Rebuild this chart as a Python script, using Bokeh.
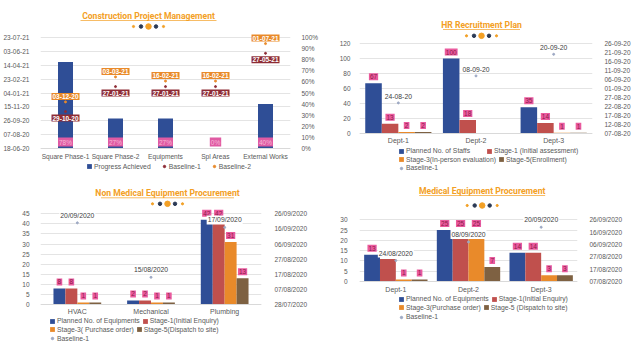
import datetime as dt
import numpy as np
from bokeh.plotting import figure
from bokeh.models import (Range1d, FactorRange, LinearAxis, FixedTicker, DatetimeTickFormatter,
                          PrintfTickFormatter, ColumnDataSource, Legend, LegendItem, Span)
from bokeh.transform import dodge
from bokeh.layouts import gridplot
from bokeh.embed import file_html
from bokeh.resources import INLINE
from bokeh.core.properties import value

# ------------------------------------------------------------------ data
c1_title = "Construction Project Management"
c1_categories = ["Square Phase-1", "Square Phase-2", "Equipments", "Spl Areas", "External Works"]
c1_progress = [78, 27, 27, 0, 40]
c1_baseline1 = ["2020-10-29", "2021-01-27", "2021-01-27", "2021-01-27", "2021-05-27"]
c1_baseline2 = ["2020-12-03", "2021-03-03", "2021-02-16", "2021-02-16", "2021-07-01"]
c1_date_ticks = ["2020-06-18", "2020-08-07", "2020-09-26", "2020-11-15", "2021-01-04",
                 "2021-02-23", "2021-04-14", "2021-06-03", "2021-07-23"]
c1_pct_ticks = [0, 10, 20, 30, 40, 50, 60, 70, 80, 90, 100]

c2_title = "HR Recruitment Plan"
c2_categories = ["Dept-1", "Dept-2", "Dept-3"]
c2_names = ["Planned No. of Staffs", "Stage-1 (Initial assessment)",
            "Stage-3(In-person evaluation)", "Stage-5(Enrollment)"]
c2_planned = [67, 100, 35]
c2_stage1 = [13, 18, 14]
c2_stage3 = [2, None, 1]
c2_stage5 = [2, None, 1]
c2_baseline1 = ["2020-08-24", "2020-09-08", "2020-09-20"]
c2_count_ticks = [0, 20, 40, 60, 80, 100, 120]
c2_date_ticks = ["2020-08-07", "2020-08-12", "2020-08-17", "2020-08-22", "2020-08-27", "2020-09-01",
                 "2020-09-06", "2020-09-11", "2020-09-16", "2020-09-21", "2020-09-26"]

c3_title = "Non Medical Equipment Procurement"
c3_categories = ["HVAC", "Mechanical", "Plumbing"]
c3_names = ["Planned No. of Equipments", "Stage-1(Initial Enquiry)",
            "Stage-3( Purchase order)", "Stage-5(Dispatch to site)"]
c3_planned = [8, 2, 42]
c3_stage1 = [8, 2, 42]
c3_stage3 = [1, 1, 31]
c3_stage5 = [1, 1, 13]
c3_baseline1 = ["2020-09-20", "2020-08-15", "2020-09-17"]
c3_count_ticks = [0, 5, 10, 15, 20, 25, 30, 35, 40, 45]
c3_date_ticks = ["2020-07-28", "2020-08-07", "2020-08-17", "2020-08-27",
                 "2020-09-06", "2020-09-16", "2020-09-26"]

c4_title = "Medical Equipment Procurement"
c4_categories = ["Dept-1", "Dept-2", "Dept-3"]
c4_names = ["Planned No. of Equipments", "Stage-1(Initial Enquiry)",
            "Stage-3(Purchase order)", "Stage-5 (Dispatch to site)"]
c4_planned = [13, 25, 14]
c4_stage1 = [11, 25, 14]
c4_stage3 = [1, 25, 3]
c4_stage5 = [1, 7, 3]
c4_baseline1 = ["2020-08-24", "2020-09-08", "2020-09-20"]
c4_count_ticks = [0, 5, 10, 15, 20, 25, 30]
c4_date_ticks = ["2020-08-07", "2020-08-17", "2020-08-27", "2020-09-06", "2020-09-16", "2020-09-26"]

# ------------------------------------------------------------------ style
FONT = "Liberation Sans"
TITLE_FONT = "Roboto"
AXIS_TXT = "#595959"
GRID = "#E4E4E4"
BLUE = "#2F4E96"
RED = "#C0504D"
ORANGE = "#E98A2A"
BROWN = "#7E6142"
PINK = "#EA5A9E"
PINK_TXT = "#8A1C48"
TITLE_ORANGE = "#F3A025"
NAVY = "#2B3A55"
DARKRED = "#8E2C35"
BASE_GRAY = "#9DA9C4"
SERIES_COLORS = [BLUE, RED, ORANGE, BROWN]

FIG_W = 318
EPOCH = dt.datetime(1970, 1, 1)


def to_ms(s):
    return (dt.datetime.strptime(s, "%Y-%m-%d") - EPOCH).total_seconds() * 1000.0


def fmt_date(s, f):
    return dt.datetime.strptime(s, "%Y-%m-%d").strftime(f)


def date_formatter(f):
    return DatetimeTickFormatter(microseconds=f, milliseconds=f, seconds=f, minsec=f, minutes=f,
                                 hourmin=f, hours=f, days=f, months=f, years=f)


def style_y(ax, standoff):
    ax.axis_line_color = None
    ax.major_tick_line_color = None
    ax.minor_tick_line_color = None
    ax.major_label_standoff = standoff
    ax.major_label_text_font = FONT
    ax.major_label_text_font_size = "6.5px"
    ax.major_label_text_color = AXIS_TXT


def base_figure(cats, height, fl, fr, fb, dtop, val_ticks, date_ticks, date_side, date_fmt,
                val_fmt, so_left, so_right, cat_dy, cat_size="7px"):
    """Frame covers the whole figure height; the data block sits between dtop and fb."""
    fw = fr - fl
    dh = fb - dtop
    up, down = fb / dh, (height - fb) / dh
    v0, v1 = val_ticks[0], val_ticks[-1]
    d_ms = [to_ms(d) for d in date_ticks]
    d0, d1 = d_ms[0], d_ms[-1]
    val_range = Range1d(v0 - (v1 - v0) * down, v0 + (v1 - v0) * up)
    date_range = Range1d(d0 - (d1 - d0) * down, d0 + (d1 - d0) * up)
    if date_side == "left":
        main, other, zero = date_range, val_range, d0
        left_t, right_t = FixedTicker(ticks=d_ms), FixedTicker(ticks=val_ticks)
        left_f, right_f = date_formatter(date_fmt), PrintfTickFormatter(format=val_fmt)
        names = {"val": "other", "date": "default"}
    else:
        main, other, zero = val_range, date_range, v0
        left_t, right_t = FixedTicker(ticks=val_ticks), FixedTicker(ticks=d_ms)
        left_f, right_f = PrintfTickFormatter(format=val_fmt), date_formatter(date_fmt)
        names = {"val": "default", "date": "other"}
    p = figure(x_range=FactorRange(*cats), y_range=main, frame_width=fw, frame_height=height,
               output_backend="svg", toolbar_location=None, x_axis_location=None,
               min_border_left=fl, min_border_right=FIG_W - fr,
               min_border_top=0, min_border_bottom=0,
               outline_line_color=None, background_fill_color="white", border_fill_color="white")
    p.extra_y_ranges = {"other": other, "py": Range1d(-(height - fb), fb)}
    lax = p.yaxis[0]
    lax.ticker = left_t
    lax.formatter = left_f
    style_y(lax, so_left)
    rax = LinearAxis(y_range_name="other", ticker=right_t, formatter=right_f)
    style_y(rax, so_right)
    p.add_layout(rax, "right")
    p.ygrid.ticker = left_t
    p.ygrid.grid_line_color = GRID
    p.xgrid.visible = False
    # category axis: baseline and labels
    p.add_layout(Span(location=zero, dimension="width", line_color="#D9D9D9", line_width=1))
    cl = ColumnDataSource(dict(x=cats, y=[-cat_dy] * len(cats), t=cats))
    p.text(x="x", y="y", text="t", source=cl, y_range_name="py", text_align="center",
           text_baseline="middle", text_font=value(FONT), text_font_size=cat_size,
           text_color=AXIS_TXT)
    return p, names


def decorate(p, cats, fw, fb, title, cx, title_y, dots_y, uw):
    """Title, underline and the dot ornament, positioned in frame pixels."""
    unit = fw / len(cats)

    def off(px):
        return px / unit - 0.5

    ty = fb - title_y
    dy = fb - dots_y
    first = [cats[0]]
    src_u = ColumnDataSource(dict(x0=first, x1=first, y=[ty - 5]))
    p.segment(x0=dodge("x0", off(cx - uw / 2), range=p.x_range),
              x1=dodge("x1", off(cx + uw / 2), range=p.x_range), y0="y", y1="y", source=src_u,
              line_color=TITLE_ORANGE, line_width=1, line_alpha=0.7, y_range_name="py")
    src_t = ColumnDataSource(dict(x=first, y=[ty], t=[title]))
    p.text(x=dodge("x", off(cx), range=p.x_range), y="y", text="t", source=src_t,
           y_range_name="py", text_align="center", text_baseline="middle",
           text_font=value(TITLE_FONT), text_font_style="bold", text_font_size="8.6px",
           text_color=TITLE_ORANGE)
    offs = [-15, -7.5, 0, 7.5, 15]
    sizes = [2.2, 3.5, 5.5, 3.5, 2.2]
    cols = [TITLE_ORANGE, NAVY, TITLE_ORANGE, NAVY, TITLE_ORANGE]
    for o, s, c in zip(offs, sizes, cols):
        sd = ColumnDataSource(dict(x=first, y=[dy]))
        p.scatter(x=dodge("x", off(cx + o), range=p.x_range), y="y", source=sd, size=s,
                  color=c, y_range_name="py")


def add_legend_rows(p, rows, vx, vys, label_width=20, spacing=2):
    for items, vy in zip(rows, vys):
        lg = Legend(items=items, location=(vx, vy), orientation="horizontal",
                    label_text_font=FONT, label_text_font_size="6.8px", label_text_color=AXIS_TXT,
                    glyph_width=6, glyph_height=6, label_height=7, label_width=label_width,
                    label_standoff=2, spacing=spacing, padding=0, margin=0,
                    border_line_color=None, background_fill_alpha=0)
        p.add_layout(lg)


def grouped_chart(cats, series, names, bw, baseline, base_fmt, height, fl, fr, fb, dtop,
                  count_ticks, date_ticks, so_left, so_right, cat_dy, title, tpos,
                  legend_rows, lvx, lvys, lwidth):
    p, nm = base_figure(cats, height, fl, fr, fb, dtop, count_ticks, date_ticks, "right",
                        base_fmt, "%d", so_left, so_right, cat_dy)
    decorate(p, cats, fr - fl, fb, title, *tpos)
    n = len(series)
    items = []
    labels = []
    for i, (vals, name, col) in enumerate(zip(series, names, SERIES_COLORS)):
        off = (i - (n - 1) / 2) * bw
        src = ColumnDataSource(dict(x=cats, top=[np.nan if v is None else v for v in vals]))
        r = p.vbar(x=dodge("x", off, range=p.x_range), top="top", width=bw, source=src,
                   fill_color=col, line_color=None, y_range_name=nm["val"])
        items.append(LegendItem(label=name, renderers=[r]))
        keep = [(c, v) for c, v in zip(cats, vals) if v is not None]
        labels.append((off, ColumnDataSource(dict(x=[c for c, _ in keep], y=[v for _, v in keep],
                                                  t=[str(v) for _, v in keep]))))
    for off, lsrc in labels:
        p.text(x=dodge("x", off, range=p.x_range), y="y", text="t", source=lsrc,
               y_range_name=nm["val"], text_align="center", text_baseline="bottom", y_offset=-3,
               text_font=value(FONT), text_font_size="6.5px", text_color=PINK_TXT,
               background_fill_color=PINK, padding=1)
    bsrc = ColumnDataSource(dict(x=cats, y=[to_ms(d) for d in baseline],
                                 t=[fmt_date(d, base_fmt) for d in baseline]))
    rb = p.scatter(x="x", y="y", source=bsrc, size=2, color=BASE_GRAY, y_range_name=nm["date"])
    p.text(x="x", y="y", text="t", source=bsrc, y_range_name=nm["date"], text_align="center",
           text_baseline="bottom", y_offset=-3, text_font=value(FONT), text_font_size="6.8px",
           text_color="#404040", background_fill_color="white", padding=1)
    items.append(LegendItem(label="Baseline-1", renderers=[rb]))
    rows = [[items[i] for i in r] for r in legend_rows]
    add_legend_rows(p, rows, lvx, lvys, lwidth)
    return p


# ------------------------------------------------------------------ chart 1
H_TOP, H_BOT = 179, 178
fl1, fr1, fb1, dt1 = 40, 290, 148, 37
p1, nm1 = base_figure(c1_categories, H_TOP, fl1, fr1, fb1, dt1, c1_pct_ticks, c1_date_ticks,
                      "left", "%d-%m-%y", "%d%%", 5, 5, 7.7, cat_size="6.6px")
decorate(p1, c1_categories, fr1 - fl1, fb1, c1_title, 108, 15, 26, 136)
s1 = ColumnDataSource(dict(x=c1_categories, top=c1_progress, z=[0] * len(c1_progress),
                           t=[f"{v}%" for v in c1_progress]))
r_prog = p1.vbar(x="x", top="top", width=0.3, source=s1, fill_color=BLUE, line_color=None,
                 y_range_name=nm1["val"])
p1.text(x="x", y="z", text="t", source=s1, y_range_name=nm1["val"], text_align="center",
        text_baseline="bottom", y_offset=-2, text_font=value(FONT), text_font_size="6.5px",
        text_color="#F6B9D8", background_fill_color="#E05BA3", padding=1)
b1 = ColumnDataSource(dict(x=c1_categories, y=[to_ms(d) for d in c1_baseline1],
                           t=[fmt_date(d, "%d-%m-%y") for d in c1_baseline1]))
b2 = ColumnDataSource(dict(x=c1_categories, y=[to_ms(d) for d in c1_baseline2],
                           t=[fmt_date(d, "%d-%m-%y") for d in c1_baseline2]))
r_b1 = p1.scatter(x="x", y="y", source=b1, size=2, color=DARKRED, y_range_name=nm1["date"])
r_b2 = p1.scatter(x="x", y="y", source=b2, size=2, color=ORANGE, y_range_name=nm1["date"])
p1.text(x="x", y="y", text="t", source=b1, y_range_name=nm1["date"], text_align="center",
        text_baseline="top", y_offset=3, text_font=value(FONT), text_font_style="bold",
        text_font_size="6.5px", text_color="white", background_fill_color=DARKRED, padding=1)
p1.text(x="x", y="y", text="t", source=b2, y_range_name=nm1["date"], text_align="center",
        text_baseline="bottom", y_offset=-2, text_font=value(FONT), text_font_style="bold",
        text_font_size="6.5px", text_color="white", background_fill_color=ORANGE, padding=1)
add_legend_rows(p1, [[LegendItem(label="Progress Achieved", renderers=[r_prog]),
                      LegendItem(label="Baseline-1", renderers=[r_b1]),
                      LegendItem(label="Baseline-2", renderers=[r_b2])]], 46, [9.5], spacing=10)

# ------------------------------------------------------------------ charts 2-4
p2 = grouped_chart(c2_categories, [c2_planned, c2_stage1, c2_stage3, c2_stage5], c2_names, 0.213,
                   c2_baseline1, "%d-%m-%y", H_TOP, 38, 271, 133, 43, c2_count_ticks,
                   c2_date_ticks, 3, 6, 7, c2_title, (122, 24, 35.3, 77),
                   [[0, 1], [2, 3], [4]], 39, [24.8, 16.2, 7.8], 78)
p3 = grouped_chart(c3_categories, [c3_planned, c3_stage1, c3_stage3, c3_stage5], c3_names, 0.162,
                   c3_baseline1, "%d/%m/%Y", H_BOT, 37, 258, 125, 34.3, c3_count_ticks,
                   c3_date_ticks, 5, 7, 7, c3_title, (127, 13.3, 24.3, 133),
                   [[0, 1], [2, 3], [4]], 9, [32.8, 24.2, 15.5], 74)
p4 = grouped_chart(c4_categories, [c4_planned, c4_stage1, c4_stage3, c4_stage5], c4_names, 0.218,
                   c4_baseline1, "%d/%m/%Y", H_BOT, 29, 247, 102, 40.3, c4_count_ticks,
                   c4_date_ticks, 6, 6, 8, c4_title, (122.7, 11, 26, 126),
                   [[0, 1], [2, 3], [4]], 39, [54.8, 46.2, 36.8], 74)

grid = gridplot([[p1, p2], [p3, p4]], toolbar_location=None)
open("out.html", "w").write(file_html(grid, INLINE))
